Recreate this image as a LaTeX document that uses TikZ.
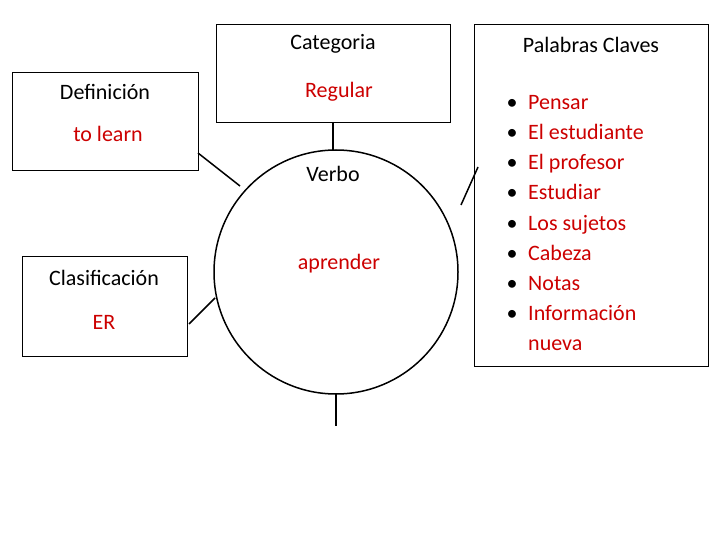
\documentclass[tikz,border=0pt]{standalone}
\usepackage{fontspec}
\setmainfont{Carlito}
\definecolor{red1}{RGB}{204,0,0}
\begin{document}
\begin{tikzpicture}[x=1pt,y=-1pt,
  box/.style={draw,line width=0.8pt},
  lbl/.style={font=\fontsize{22}{26}\selectfont,inner sep=0pt},
  red/.style={lbl,text=red1},
  ln/.style={line width=1.5pt}]
\useasboundingbox (0,0) rectangle (720,540);
\draw[box] (12,72) rectangle (198,170);
\draw[box] (216,24) rectangle (450,122);
\draw[box] (474,24) rectangle (708,366);
\draw[box] (22,256) rectangle (187,356);
\node[draw,circle,line width=1.5pt,minimum size=244pt,inner sep=0pt] (c) at (336,272) {};
\coordinate (t1) at (333,122); \coordinate (t2) at (333,150);
\draw[ln] (t1) -- (t2);
\coordinate (l1) at (198,153); \coordinate (l2) at (240,186);
\draw[ln] (l1) -- (l2);
\coordinate (r1) at (478,167); \coordinate (r2) at (461,205);
\draw[ln] (r1) -- (r2);
\coordinate (q1) at (189,324); \coordinate (q2) at (215,298);
\draw[ln] (q1) -- (q2);
\coordinate (b1) at (336,393); \coordinate (b2) at (336,426);
\draw[ln] (b1) -- (b2);
\node[lbl] (n1) at (105,92) {Definición};
\node[red] (n2) at (108,134) {to learn};
\node[lbl] (n3) at (333,44) {Categoria};
\node[red] (n4) at (339,92) {Regular};
\node[lbl] (n5) at (333,174) {Verbo};
\node[red] (n6) at (339,264) {aprender};
\node[lbl] (n7) at (104,278) {Clasificación};
\node[red] (n8) at (104,322) {ER};
\node[lbl] (n9) at (591,45) {Palabras Claves};
\foreach \t [count=\i] in {Pensar,El estudiante,El profesor,Estudiar,Los sujetos,Cabeza,Notas,Información}{
  \node[lbl,anchor=base] (bu\i) at (512,{80+30*\i}) {•};
  \node[red,anchor=base west] (it\i) at (528,{80+30*\i}) {\t};
}
\node[red,anchor=base west] (it9) at (528,350) {nueva};
\end{tikzpicture}
\end{document}
